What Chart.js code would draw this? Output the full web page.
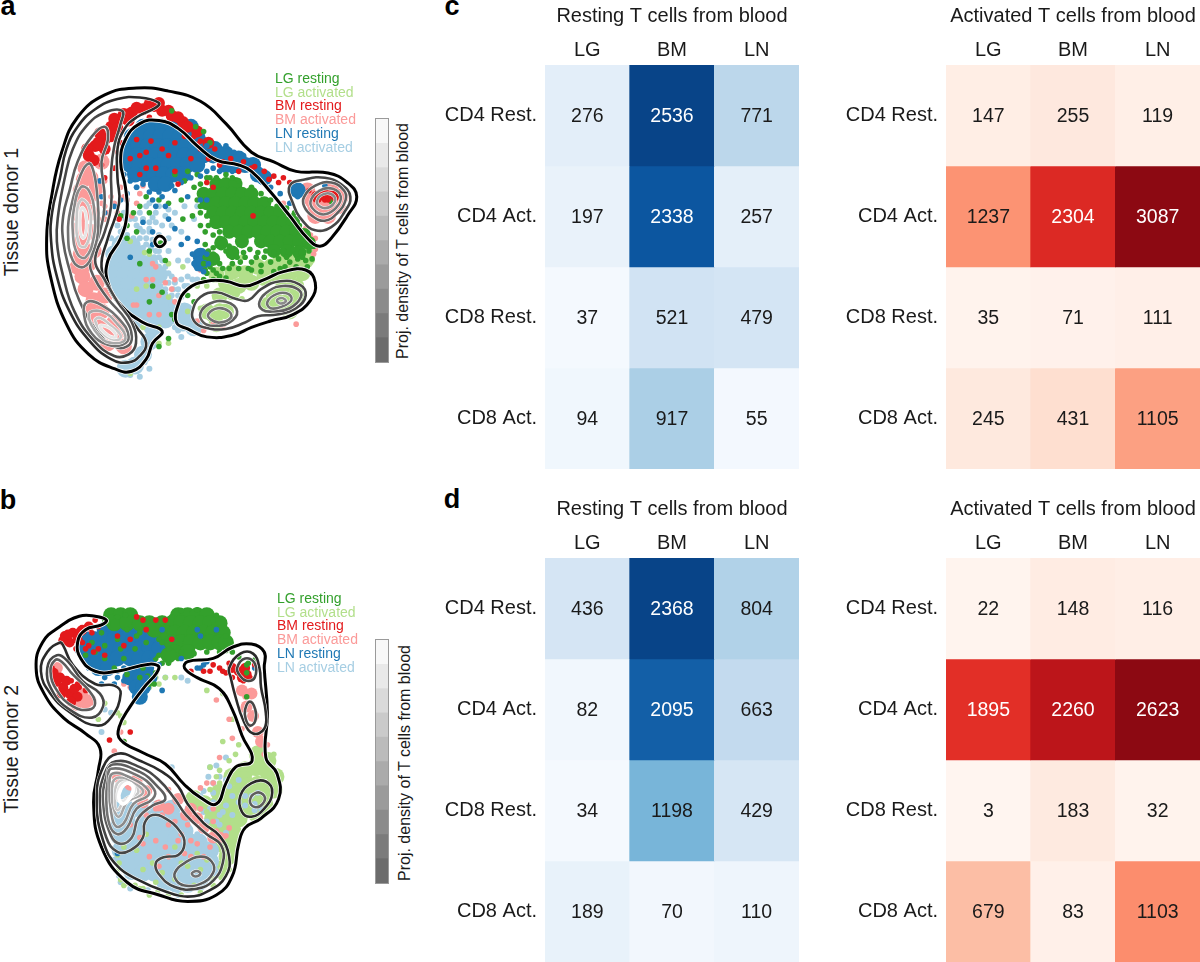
<!DOCTYPE html>
<html>
<head>
<meta charset="utf-8">
<title>T cell projections</title>
<script src="https://cdn.jsdelivr.net/npm/chart.js@4/dist/chart.umd.min.js"></script>
<style>
html,body{margin:0;padding:0;background:#fff;}
#page{position:relative;width:1200px;height:962px;overflow:hidden;font-family:"Liberation Sans",Arial,sans-serif;color:#1a1a1a;}
canvas{position:absolute;}
.t{position:absolute;white-space:nowrap;transform:translate(-50%,-50%);}
.r{transform:translate(-50%,-50%) rotate(-90deg);}
.big{font-weight:bold;font-size:27px;color:#000;}
.leg{position:absolute;font-size:14px;line-height:14px;white-space:nowrap;}
</style>
</head>
<body>
<div id="page">
<span class="t big" style="left:8px;top:6px">a</span>
<span class="t big" style="left:8px;top:500px">b</span>
<span class="t big" style="left:452px;top:6px">c</span>
<span class="t big" style="left:452px;top:499px">d</span>
<span class="t r" style="left:11px;top:212px;font-size:19.5px">Tissue donor 1</span>
<span class="t r" style="left:11px;top:749px;font-size:19.5px">Tissue donor 2</span>
<span class="t r" style="left:403px;top:241px;font-size:16px">Proj. density of T cells from blood</span>
<span class="t r" style="left:405px;top:763px;font-size:16px">Proj. density of T cells from blood</span>
</div>
<script>
const tissues = ["LG","BM","LN"];
const subsets = ["CD4 Rest.","CD4 Act.","CD8 Rest.","CD8 Act."];
const legendNames = ["LG resting","LG activated","BM resting","BM activated","LN resting","LN activated"];
const legendColors = ["#33a02c","#b2df8a","#e31a1c","#fb9a99","#1f78b4","#a6cee3"];

const cRest = [[276,2536,771],[197,2338,257],[37,521,479],[94,917,55]];
const cAct = [[147,255,119],[1237,2304,3087],[35,71,111],[245,431,1105]];
const dRest = [[436,2368,804],[82,2095,663],[34,1198,429],[189,70,110]];
const dAct = [[22,148,116],[1895,2260,2623],[3,183,32],[679,83,1103]];

const densityBands = [1,1,1,1,1,1,1,1,1,1];
const bandGrays = ["#6c6c6c","#7b7b7b","#8b8b8b","#9b9b9b","#ababab","#bbbbbb","#cacaca","#dadada","#e9e9e9","#f8f8f8"];

// donor 1 cells (flat x,y)
const aLnActCore = [350,740,385,745,330,770,365,770,400,770,335,800,370,800,405,800,440,800,330,835,365,835,400,835,435,835,470,835,340,870,375,870,410,870,445,870,360,905,395,905,430,905,470,905,385,940,420,940,455,940,490,940,420,975,455,975,490,975,450,1000,440,1045,420,1085,395,1120,365,1130,550,950,545,985,580,1000];
const aBmActCore = [240,500,255,530,235,535,225,570,222,610,225,650,222,690,228,730,225,770,215,810,230,840,250,800,265,760,240,880,265,915,290,950,260,950,280,985,300,1015,330,1040,310,1050,345,1010,275,860,300,900,250,590,255,640,255,700,330,985,360,1060,980,610,1005,620,960,620,1000,590,975,640,950,600,1030,620,1000,650,960,650,1040,590,935,570,1010,570,290,480,275,560];
const aLgActCore = [930,790,900,800,870,810,850,790,680,860,720,870,760,860,800,845,840,835,880,830,920,830,900,870,860,870,830,900,870,920,840,940,810,930,660,950,640,960,680,950,660,900,700,890,650,990,620,950,900,900,880,950,650,835,700,825,740,830,780,810,820,810,860,785,900,770,930,755];
const aLnRestCore = [420,370,450,370,480,370,510,370,540,370,385,400,415,400,445,400,475,400,505,400,535,400,565,400,590,400,375,430,405,430,435,430,465,430,495,430,525,430,555,430,585,430,615,430,370,460,400,460,430,460,460,460,490,460,520,460,550,460,580,460,610,460,640,460,670,460,380,490,410,490,440,490,470,490,500,490,530,490,560,490,590,490,680,490,710,490,740,490,765,490,395,520,425,520,455,520,485,520,515,520,545,520,780,520,800,530,460,550,490,550,600,775,600,800,905,570,645,440,680,455,720,470,570,370,605,425];
const aLgRestCore = [650,550,680,550,710,550,610,580,640,580,670,580,700,580,730,580,760,580,620,610,650,610,680,610,710,610,740,610,770,610,800,610,640,640,670,640,700,640,730,640,760,640,790,640,820,640,850,640,650,670,680,670,710,670,740,670,770,670,800,670,830,670,860,670,890,670,690,700,720,700,750,700,780,700,810,700,840,700,870,700,900,700,925,710,730,730,790,730,820,730,850,730,880,730,910,730,940,735,665,735,700,765,640,785,830,760,870,760,910,765];
const aBmRestCore = [250,460,270,430,265,475,300,410,285,390,320,370,350,345,385,325,420,315,455,305,480,320,510,335,545,355,590,385,375,350,320,400,300,440,245,440,280,420,330,345,360,330,400,310,440,300,470,295,500,320,530,340,560,370,625,420,340,375,965,590,990,585,1015,590];
const aLgRestDots = [510,320,585,370,610,385,630,420,520,520,560,510,590,520,620,530,550,540,580,560,540,600,500,610,470,600,430,590,410,620,440,640,390,640,370,680,350,650,545,660,575,650,600,640,620,650,600,680,615,700,640,710,660,720,640,750,680,760,700,780,660,800,630,810,620,830,650,830,690,815,725,795,760,795,790,805,820,795,850,815,880,795,640,850,610,850,680,845,750,815,940,760,955,745,920,780,930,720,890,650,860,640,840,620,820,600,790,580,760,560,400,700,440,760,475,735,370,720,410,800,490,790,480,890,450,870,510,960,520,975,560,900,580,920,440,920,500,1035,470,1060,720,540,700,530,680,520,650,530,630,530,615,780,640,770,665,750,690,745,710,760,735,765,755,755,780,765,805,760,830,765,860,760,890,755,915,765,600,550,590,600,600,620,625,680,660,700,895,640,870,625,910,680,640,820,700,800,760,820,830,825,1010,605,610,800,625,760,615,740,670,815,715,780,740,780,775,780,800,780,845,785,870,780,905,785,930,790,720,815,790,825,865,810,900,810,935,810,950,785,615,820,660,840];
const aLnRestDots = [380,780,420,670,450,700,500,660,520,690,540,740,590,730,620,600,600,600,560,590,520,570,480,590,450,600,490,620,460,620,560,720,450,740,620,430,650,440,680,430,705,450,735,460,770,490,790,530,820,560,850,580,880,610,915,560,895,575,905,590,990,555,400,560,370,580,350,600,330,620,300,640,290,590,285,540,420,550,440,575,380,540,360,520,510,555,540,545,570,530,600,525,470,575,640,500,620,510,660,510,700,510,575,770,580,800,620,770,625,800,610,825,590,815];
const aBmRestDots = [400,410,430,450,480,440,520,420,460,500,410,520,520,510,380,470,430,500,550,400,580,400,600,440,625,470,660,490,720,510,770,495,800,510,830,525,860,530,880,545,815,535,845,545,765,650,345,660,290,490,300,530,940,570,960,590,975,575,990,600,1005,580,1020,595,985,590,1000,600,970,600,530,550,620,545,640,560,330,500,340,450,350,420,410,460,445,415,500,460,590,425,570,470,440,340,600,415,645,440,695,470,670,480,735,480,760,500];
const aBmActDots = [380,520,400,610,340,640,420,555,450,800,460,810,430,850,450,850,470,960,490,860,400,930,390,930,610,1010,640,990,590,980,955,770,960,755,945,710,930,690,860,610,960,720,330,1000,510,880,520,920,600,820,350,560,370,600,310,640,300,660,320,590,300,540,1040,600,960,650,290,610,330,610,360,590,280,660,300,620,440,960,410,580,385,650,670,1000,900,990,520,850,470,900];
const aLgActDots = [440,770,500,800,545,810,430,870,400,880,500,1050,470,1050,380,1145,640,950,600,940,560,950,420,1000,470,1000,425,765,380,730,730,780,780,790,700,840,620,870,730,910,590,870,500,905,950,790];
const aLnActDots = [400,560,430,620,460,640,490,650,510,680,480,680,520,640,470,710,440,690,410,720,500,720,430,740,470,760,500,760,530,790,560,790,420,780,500,830,520,860,540,850,560,840,590,850,490,880,510,900,530,900,550,870,480,920,510,930,540,960,530,1010,560,990,500,990,520,980,540,1030,370,600,340,680,345,720,700,880,730,880,890,880,905,870,380,1150,410,1155,440,1130,425,1110,470,780,455,830,440,700,540,700,580,660,550,620,590,620,450,655,360,690,380,660,400,680,420,700,390,720,360,640,410,640,440,610,470,620,500,630,430,720,450,725,460,760,480,790,490,810,510,840,470,810,455,780,445,750,420,750,400,730,370,710,350,700,480,850,500,860,515,880,530,880,475,870,490,895,505,915,525,935,515,955,540,905,560,870,575,850,520,1000,540,1000,470,1010,345,660,365,660,320,720,410,690,395,660,420,660,440,670,460,670];

// donor 2 cells
const bLnActCore = [345,960,360,990,340,1000,370,950,370,1020,390,1060,410,1000,350,1040,470,1000,510,1000,430,1030,470,1030,510,1030,540,1040,410,1060,445,1060,480,1060,515,1060,550,1070,385,1095,420,1095,455,1095,490,1095,525,1095,560,1100,595,1105,350,1130,385,1130,420,1130,455,1130,490,1130,525,1130,560,1130,595,1130,630,1130,365,1165,385,1165,420,1165,455,1165,490,1165,525,1165,560,1165,595,1165,630,1165,385,1195,420,1200,455,1200,490,1200,525,1200,560,1200,595,1200,630,1200,490,1230,525,1235,560,1235,595,1230,345,1050,345,1085];
const bBmActCore = [150,560,210,675,240,670,230,640,255,660,730,630,760,640,745,680,765,710,780,760,790,790,590,1030,610,1060,640,1090,570,1000,530,970,500,1000,470,990,340,900,400,910,430,945,420,980,380,925,555,1020,660,1090];
const bLgActCore = [780,830,810,850,740,880,775,870,810,880,835,900,830,940,700,900,735,910,660,950,690,950,720,950,650,990,690,990,730,1000,775,1015,640,1030,680,1030,720,1030,660,1070,700,1070,670,1110,695,1110,685,1150,665,1190,610,985,580,970,800,985,760,960,800,950,750,930,780,925];
const bLnRestCore = [300,440,330,440,360,440,390,440,420,440,450,440,240,470,270,470,300,470,330,470,360,470,390,470,420,470,450,470,480,470,230,500,260,500,290,500,320,500,350,500,380,500,410,500,440,500,470,500,500,500,250,530,280,530,310,530,340,530,380,530,410,530,440,530,280,560,310,560,400,560,430,560,380,590,410,590,440,590,400,620,420,620,410,650];
const bLgRestCore = [320,395,350,395,380,395,330,420,370,420,410,420,440,420,480,420,530,395,560,395,590,395,620,395,510,420,540,420,570,420,600,420,630,420,660,420,490,450,520,450,550,450,580,450,610,450,640,450,670,450,510,480,540,480,570,480,600,480,630,480,660,480,680,480,520,510,560,510,455,440,500,520];
const bBmRestCore = [175,460,200,450,190,480,215,470,230,440,170,475,185,455,225,445,250,430,160,590,170,620,190,640,215,650,180,600,150,600,165,640,195,665,205,625,140,575,720,570,740,560,700,560,730,590,745,580];
const bLgRestDots = [540,380,590,378,650,395,640,410,680,460,690,490,370,440,410,450,470,470,500,500,470,520,430,480,395,500,350,500,300,490,270,510,240,520,330,560,370,580,435,585,480,480,660,510,620,510,580,515,540,510,745,550,750,545,745,650,440,610,360,790,320,400,480,405,510,400,410,405,365,395,340,400,460,530,480,545,500,545,530,530,680,505,700,510,720,525,770,535,745,575,310,420,300,410,400,460,340,470,290,450,260,480,300,530,360,530,420,560,460,575,455,610,410,590];
const bLnRestDots = [480,440,510,470,450,520,440,540,340,590,360,600,430,630,410,660,590,560,540,530,620,540,340,1140,480,630,290,470,650,440,600,460,590,440,360,560,340,570,250,560,220,480,600,560,610,550,770,560,470,550,430,590,330,610,300,590,290,610];
const bBmRestDots = [270,410,230,480,265,510,280,500,340,460,420,410,460,410,490,410,430,440,380,470,300,520,150,610,200,670,220,620,240,630,175,640,215,610,195,600,640,550,670,570,690,545,610,570,570,570,755,590,735,600,315,785,380,760,630,570,660,560,700,590,680,575,770,550,400,400,510,470,360,490,250,490,210,500,135,560,240,500,280,430,260,450];
const bBmActDots = [360,610,440,590,380,620,650,660,690,720,700,780,620,920,640,920,600,935,350,760,330,820,750,740,770,700,740,650,790,800,660,840,730,750,500,940,360,790,460,1000,500,1050,540,1080,460,1100,490,1120,530,1100,550,1140,440,1150,500,1150,420,1110,470,1180,430,1020,610,1150,630,1120,590,1110,600,1060,570,1100,560,1050,600,1000,640,1040,650,1070,680,1085,690,1060,520,1040,480,1020,410,1090,640,1000,380,1050,570,1150,810,800,800,830,730,690];
const bLgActDots = [440,620,470,610,490,590,520,590,620,630,670,640,700,720,670,790,720,800,630,870,660,880,340,700,350,710,360,730,300,670,280,720,460,590,430,1080,400,1130,520,1120,480,1200,420,1190,560,1180,600,1190,660,980,620,1010,640,1060,360,1240,410,1250,440,1270,710,830,690,850,660,920,650,900,630,940,600,1000,620,970,360,1120,450,1170,540,1170,520,1220,460,1230,590,1140,620,1160,640,1220,580,1240,830,830,340,1145,345,1170,338,1195,350,1222,370,1232,395,1240,420,1250,465,1262,500,1268,540,1270,600,1262,640,1240,665,1215,690,1190,700,1140];
const bLnActDots = [490,590,540,590,560,600,510,870,630,870,680,840,660,900,640,950,610,945,680,910,720,980,760,960,780,950,790,1000,620,1040,660,1020,680,990,300,690,320,700,290,760,350,1230,345,1210,530,1270,470,1250,640,980,670,1010,700,1020,660,1050,630,1000,700,960,740,960,770,985,770,1005,740,990,690,930,720,910,680,1075,650,1040,610,1010,600,960,590,1080,560,1000,640,920,625,900,650,865,330,1160,380,1250,435,1255];

// density contours, outer rings first
const aContours = [
 [400,248,500,258,600,290,680,360,760,450,830,480,900,510,1000,515,1060,545,1090,590,1060,650,1010,720,975,745,940,725,880,650,820,575,760,510,720,490,650,475,590,430,530,375,470,350,410,360,365,410,350,480,365,560,370,640,350,720,310,790,310,860,350,930,420,985,480,1012,450,1050,430,1100,385,1138,330,1130,250,1085,180,990,130,840,118,720,135,580,165,450,215,340,300,270],
 [472,713,490,730,472,747,457,730],
 [530,930,560,880,620,855,680,855,740,870,800,850,860,825,930,820,960,860,945,915,890,960,820,980,760,1000,700,1025,620,1030,560,1005,525,985],
 [470,295,410,278,340,283,270,315,215,370,180,440,160,530,135,640,132,730,150,840,190,950,250,1040,320,1100,375,1110,410,1090,430,1050,400,1000,370,960,320,890,290,810,310,720,345,610,340,530,340,440,360,380,400,340,460,310],
 [880,555,930,535,990,530,1040,550,1070,590,1050,640,1010,685,960,695,920,665,890,610],
 [575,950,600,905,650,890,710,910,750,915,790,880,850,855,910,865,930,900,900,940,840,960,780,965,740,985,680,1005,610,1000,580,980],
 [355,320,300,325,245,365,200,440,175,530,155,640,150,730,170,840,205,950,265,1040,330,1090,375,1085,398,1050,385,985,340,920,300,850,270,790,300,700,320,620,320,510,330,430,350,360],
 [925,590,960,555,1010,545,1050,570,1055,600,1030,640,990,665,950,650,925,620],
 [600,955,630,925,680,920,715,950,690,985,640,995,610,985],
 [785,920,815,885,860,870,905,880,915,905,880,940,830,950,795,945],
 [300,370,260,400,215,480,190,570,170,650,170,730,190,820,220,915,275,1010,330,1060,370,1060,385,1030,365,975,310,910,265,840,255,790,285,700,300,600,290,480,310,410],
 [945,605,975,570,1015,565,1040,590,1025,625,990,645,960,635],
 [625,958,655,940,690,950,695,970,660,985,632,975],
 [810,920,840,895,875,895,885,915,855,935,820,940],
 [250,485,225,520,195,620,185,700,200,790,235,810,265,760,280,680,275,570,265,510],
 [245,920,235,960,260,1020,310,1055,355,1055,375,1030,350,980,290,930],
 [965,605,990,580,1020,590,1015,615,985,625],
 [840,915,855,908,868,918,850,925],
 [225,560,205,620,200,700,215,770,240,780,265,720,268,640,250,570],
 [250,960,285,1030,330,1050,365,1035,340,990,290,950],
 [225,600,212,660,220,740,240,745,255,690,250,620],
 [270,980,300,1025,340,1040,350,1025,320,995,285,970],
 [228,625,222,680,232,720,243,690,240,640],
 [285,995,310,1025,335,1030,320,1005]
];
const aRingShades = [0,0,0,1,2,2,2,3,3,3,3,4,4,4,4,4,5,5,5,6,7,7,8,8];

const bContours = [
 [305,410,270,398,220,398,160,430,105,480,85,560,110,640,170,715,240,765,285,810,280,880,265,980,290,1120,370,1230,470,1270,560,1290,650,1270,700,1210,720,1110,740,1060,790,1030,845,970,840,890,805,840,810,700,800,560,800,510,760,485,700,495,640,530,560,540,550,560,590,590,660,625,700,690,730,770,762,850,710,870,680,920,650,985,600,965,550,925,490,860,420,825,350,785,345,745,380,680,420,625,470,560,440,548,340,570,270,570,225,530,215,480,240,440,290,425],
 [160,480,120,510,100,570,130,640,200,705,275,740,320,715,350,640,330,615,270,610,200,550,170,490],
 [340,828,410,850,480,885,530,930,560,985,610,1045,660,1085,690,1150,680,1210,630,1255,560,1275,480,1255,410,1225,340,1180,295,1100,275,970,295,870],
 [690,560,725,515,765,515,785,560,790,620,805,700,800,750,765,765,735,725,710,650,695,590],
 [725,960,760,920,805,915,825,950,800,1000,760,1025,730,1010],
 [150,520,120,560,135,630,190,690,260,715,295,680,285,640,230,600,185,540],
 [335,852,410,870,470,910,520,970,555,1020,620,1080,665,1115,670,1170,640,1225,590,1250,520,1245,470,1205,460,1170,485,1152,530,1145,550,1110,535,1070,490,1030,450,1020,425,1045,420,1090,380,1130,340,1135,305,1090,285,980,300,890],
 [715,560,740,530,770,545,770,590,745,600,725,585],
 [740,690,755,665,772,690,772,725,755,740,742,720],
 [755,975,775,950,800,960,795,985,770,995],
 [145,535,130,570,150,630,200,680,250,690,270,670,250,630,200,580,165,540],
 [325,862,410,885,465,930,490,970,450,990,405,1030,385,1090,350,1110,320,1085,295,980,305,900],
 [520,1200,550,1170,600,1150,635,1165,640,1200,600,1235,550,1240,525,1225],
 [320,875,400,895,455,940,450,970,400,1000,370,1060,340,1080,315,1050,305,970,310,910],
 [573,1203,588,1195,600,1203,585,1212],
 [325,890,395,910,435,940,435,960,390,985,360,1045,335,1055,320,1010,315,940],
 [335,905,390,920,420,950,370,980,345,1025,328,1000,322,950],
 [345,915,385,925,405,950,365,970,340,1005,332,960],
 [355,920,390,930,390,955,360,975,340,970],
 [370,920,388,930,385,955,360,985,345,970,350,940]
];
const bRingShades = [0,1,1,1,1,2,2,2,2,3,3,3,3,4,4,5,6,7,8,9];
const ringColors = ["#000000","#2a2a2a","#474747","#5e5e5e","#727272","#8a8a8a","#a8a8a8","#c8c8c8","#e6e6e6","#ffffff"];

function pairs(flat){
 let out=[];
 for(let i=0;i<flat.length;i+=2) out.push({x:flat[i],y:flat[i+1]});
 return out;
}

function closedLoop(flat){
 let p=pairs(flat);
 return [p[p.length-1],...p,p[0],p[1]];
}

// layers drawn bottom to top
function cellLayer(flat,color,radius){
 return {type:"scatter",data:pairs(flat),backgroundColor:color,borderWidth:0,pointRadius:radius,pointHoverRadius:radius};
}

function ringLayer(flat,color,width){
 let pts=closedLoop(flat);
 let last=pts.length-1;
 return {type:"line",data:pts,borderColor:color,borderWidth:width,pointRadius:0,tension:0.45,fill:false,
  segment:{borderColor:c=>(c.p0DataIndex===0||c.p1DataIndex===last)?"rgba(0,0,0,0)":undefined}};
}

function drawProjection(left,top,w,h,xMax,yMax,layers,contours,shades){
 let sets=layers.slice();
 contours.forEach((c,i)=>{
  let thick=shades[i]===0;
  sets.push(ringLayer(c,"#ffffff",thick?4.6:3.6));
  sets.push(ringLayer(c,ringColors[shades[i]],thick?3:2.6));
 });
 sets.forEach((s,i)=>{s.order=sets.length-i;});
 let cv=addCanvas(left,top,w,h);
 new Chart(cv,{
  data:{datasets:sets},
  options:{responsive:false,animation:false,
   layout:{padding:0},
   plugins:{legend:{display:false},tooltip:{enabled:false},title:{display:false}},
   scales:{
    x:{type:"linear",display:false,min:0,max:xMax},
    y:{type:"linear",display:false,min:0,max:yMax,reverse:true}
   }}
 });
}

function addCanvas(left,top,w,h){
 let cv=document.createElement("canvas");
 cv.width=w;cv.height=h;
 cv.style.left=left+"px";cv.style.top=top+"px";
 cv.style.width=w+"px";cv.style.height=h+"px";
 document.getElementById("page").appendChild(cv);
 return cv;
}

const blues = ["#f7fbff","#deebf7","#c6dbef","#9ecae1","#6baed6","#4292c6","#2171b5","#08519c","#08306b"];
const reds = ["#fff5f0","#fee0d2","#fcbba1","#fc9272","#fb6a4a","#ef3b2c","#cb181d","#a50f15","#67000d"];

function hex(c){return [1,3,5].map(i=>parseInt(c.substr(i,2),16));}

function shade(ramp,t){
 let f=Math.min(t,1)*(ramp.length-1);
 let i=Math.min(Math.floor(f),ramp.length-2);
 let a=hex(ramp[i]),b=hex(ramp[i+1]),k=f-i;
 return "rgb("+a.map((v,n)=>Math.round(v+(b[n]-v)*k)).join(",")+")";
}

const cellText = {
 id:"cellText",
 afterDatasetsDraw(chart,args,opts){
  let ctx=chart.ctx;
  ctx.save();
  ctx.font='19.5px "Liberation Sans"';
  ctx.textAlign="center";
  ctx.textBaseline="middle";
  chart.data.datasets.forEach((ds,r)=>{
   chart.getDatasetMeta(r).data.forEach((bar,c)=>{
    let v=opts.values[r][c];
    ctx.fillStyle=v/opts.top>0.6?"#ffffff":"#1a1a1a";
    ctx.fillText(v,bar.x,(bar.y+bar.base)/2+1);
   });
  });
  ctx.restore();
 }
};

function drawHeatmap(left,top,name,values,ramp){
 let peak=Math.max(...values.flat());
 let cv=addCanvas(left,top,370,470);
 new Chart(cv,{
  type:"bar",
  plugins:[cellText],
  data:{
   labels:tissues,
   datasets:subsets.map((s,r)=>({
    label:s,
    data:tissues.map(()=>[r,r+1]),
    backgroundColor:values[r].map(v=>shade(ramp,v/(peak*1.08))),
    barPercentage:1,categoryPercentage:1,borderWidth:0,grouped:false
   }))
  },
  options:{responsive:false,animation:false,
   layout:{padding:{left:0,right:1,top:0,bottom:1}},
   plugins:{legend:{display:false},tooltip:{enabled:false},
    cellText:{values:values,top:peak},
    title:{display:true,text:name,fullSize:false,color:"#1a1a1a",font:{family:"Liberation Sans",size:20,weight:"normal"},padding:{top:4,bottom:4}}
   },
   scales:{
    x:{position:"top",grid:{display:false,drawTicks:false},border:{display:false},
     ticks:{color:"#1a1a1a",font:{family:"Liberation Sans",size:20},padding:3,maxRotation:0},
     afterFit(s){s.height=33;s.paddingLeft=0;s.paddingRight=0;}},
    y:{min:0,max:4,reverse:true,grid:{display:false,drawTicks:false},border:{display:false},
     afterBuildTicks(s){s.ticks=subsets.map((_,i)=>({value:i+0.5}));},
     ticks:{color:"#1a1a1a",font:{family:"Liberation Sans",size:20},padding:8,autoSkip:false,
      callback:v=>subsets[v-0.5]},
     afterFit(s){s.width=115;s.paddingTop=0;s.paddingBottom=0;}}
   }}
 });
}

function drawBar(left,top,h){
 let cv=addCanvas(left,top,12,h);
 cv.style.outline="1px solid #9a9a9a";
 new Chart(cv,{
  type:"bar",
  data:{labels:["density"],datasets:densityBands.map((b,i)=>({data:[b],backgroundColor:bandGrays[i],barPercentage:1,categoryPercentage:1,borderWidth:0}))},
  options:{responsive:false,animation:false,layout:{padding:0},
   plugins:{legend:{display:false},tooltip:{enabled:false}},
   scales:{x:{display:false,stacked:true},y:{display:false,stacked:true,min:0,max:densityBands.length}}}
 });
}

function addLegend(x,y){
 legendNames.forEach((n,i)=>{
  let s=document.createElement("span");
  s.className="leg";
  s.textContent=n;
  s.style.left=x+"px";
  s.style.top=(y+i*13.7-7)+"px";
  s.style.color=legendColors[i];
  document.getElementById("page").appendChild(s);
 });
}

const C=legendColors;
drawProjection(0,0,420,400,1260,1200,[
 cellLayer(aLnActCore,C[5],9),cellLayer(aLnActDots,C[5],3),
 cellLayer(aBmActCore,C[3],8),cellLayer(aLgActCore,C[1],8),
 cellLayer(aLgActDots,C[1],2.8),cellLayer(aBmActDots,C[3],2.8),
 cellLayer(aLnRestCore,C[4],8),cellLayer(aLgRestCore,C[0],7),
 cellLayer(aBmRestCore,C[2],6),
 cellLayer(aLgRestDots,C[0],2.8),cellLayer(aLnRestDots,C[4],2.8),cellLayer(aBmRestDots,C[2],2.8)
],aContours,aRingShades);

drawProjection(0,480,420,440,1260,1320,[
 cellLayer(bLgActCore,C[1],9),cellLayer(bLnActCore,C[5],9),
 cellLayer(bLnActDots,C[5],3),cellLayer(bLgActDots,C[1],2.8),
 cellLayer(bBmActCore,C[3],6),cellLayer(bBmActDots,C[3],2.8),
 cellLayer(bLnRestCore,C[4],8),cellLayer(bLgRestCore,C[0],8),
 cellLayer(bBmRestCore,C[2],5),
 cellLayer(bLgRestDots,C[0],2.8),cellLayer(bLnRestDots,C[4],2.8),cellLayer(bBmRestDots,C[2],2.8)
],bContours,bRingShades);

drawBar(376,119,243);
drawBar(376,640,243);
addLegend(275,78);
addLegend(277,598);

drawHeatmap(430,0,"Resting T cells from blood",cRest,blues);
drawHeatmap(831,0,"Activated T cells from blood",cAct,reds);
drawHeatmap(430,493,"Resting T cells from blood",dRest,blues);
drawHeatmap(831,493,"Activated T cells from blood",dAct,reds);
</script>
</body>
</html>
